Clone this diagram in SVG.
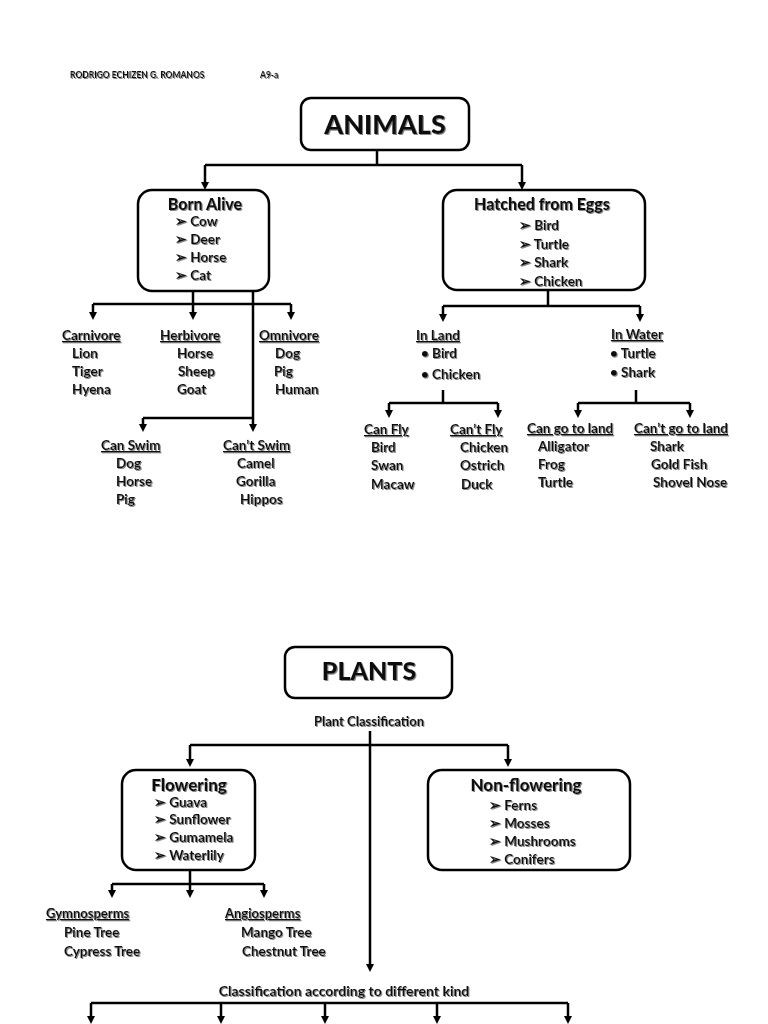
<svg xmlns="http://www.w3.org/2000/svg" width="768" height="1024" viewBox="0 0 768 1024">
<style>
text{font-family:Lato,"Liberation Sans",sans-serif;font-weight:bold;fill:#111;filter:url(#sh)}
.box{fill:#fff;stroke:#000;stroke-width:2.5}
.ln{fill:none;stroke:#000;stroke-width:2.5}
.t{font-size:16px;font-weight:900}
.i{font-size:13.5px}
.u{font-size:13.5px;text-decoration:underline}
.m{text-anchor:middle}
.h{font-weight:900}
</style>
<defs>
<filter id="sh" x="-10%" y="-20%" width="130%" height="150%"><feDropShadow dx="1" dy="1" stdDeviation="0.6" flood-color="#888"/></filter>
</defs>
<text x="70" y="78" style="font-size:8.5px">RODRIGO ECHIZEN G. ROMANOS</text>
<text x="260" y="78" style="font-size:8.5px">A9-a</text>

<g id="connectors">
<path class="ln" d="M377,150V165M205,165H522M205,165V184M522,165V184"/>
<path d="M201,182h8l-4,8z M518,182h8l-4,8z"/>
<path class="ln" d="M193,291V304M93,304H291M93,304V314M193,304V314M291,304V314"/>
<path d="M89,312h8l-4,8z M189,312h8l-4,8z M287,312h8l-4,8z"/>
<path class="ln" d="M253,291V426M143,418H253M143,418V426"/>
<path d="M139,424h8l-4,8z M249,424h8l-4,8z"/>
<path class="ln" d="M548,290V306M443,306H640M443,306V316M640,306V316"/>
<path d="M439,314h8l-4,8z M636,314h8l-4,8z"/>
<path class="ln" d="M443,390V403M389,403H498M389,403V412M498,403V412"/>
<path d="M385,410h8l-4,8z M494,410h8l-4,8z"/>
<path class="ln" d="M636,390V403M578,403H690M578,403V412M690,403V412"/>
<path d="M574,410h8l-4,8z M686,410h8l-4,8z"/>
<path class="ln" d="M370,731V966M190,745H508M190,745V761M508,745V761"/>
<path d="M366,964h8l-4,8z M186,759h8l-4,8z M504,759h8l-4,8z"/>
<path class="ln" d="M190,870V884M112,884H264M112,884V892M190,884V892M264,884V892"/>
<path d="M108,890h8l-4,8z M186,890h8l-4,8z M260,890h8l-4,8z"/>
<path class="ln" d="M91,1003H568M91,1003V1018M221,1003V1018M325,1003V1018M437,1003V1018M568,1003V1018"/>
<path d="M87,1016h8l-4,8z M217,1016h8l-4,8z M321,1016h8l-4,8z M433,1016h8l-4,8z M564,1016h8l-4,8z"/>
</g>

<g id="animals"><rect class="box" x="301" y="98" width="168" height="52" rx="10"/><text class="m h" x="385" y="134" style="font-size:27px">ANIMALS</text></g>
<g id="born-alive"><rect class="box" x="138" y="190" width="131" height="101" rx="14"/>
<text class="t m" x="205" y="210">Born Alive</text>
<text class="i" x="175" y="226">➢ Cow</text><text class="i" x="175" y="244">➢ Deer</text><text class="i" x="175" y="262">➢ Horse</text><text class="i" x="175" y="280">➢ Cat</text></g>
<g id="hatched"><rect class="box" x="443" y="190" width="202" height="100" rx="14"/>
<text class="t m" x="542" y="210">Hatched from Eggs</text>
<text class="i" x="519" y="230">➢ Bird</text><text class="i" x="519" y="249">➢ Turtle</text><text class="i" x="519" y="267">➢ Shark</text><text class="i" x="519" y="286">➢ Chicken</text></g>

<g id="carnivore"><text class="u" x="62" y="340">Carnivore</text><text class="i" x="72" y="358">Lion</text><text class="i" x="72" y="376">Tiger</text><text class="i" x="72" y="394">Hyena</text></g>
<g id="herbivore"><text class="u" x="160" y="340">Herbivore</text><text class="i" x="177" y="358">Horse</text><text class="i" x="178" y="376">Sheep</text><text class="i" x="177" y="394">Goat</text></g>
<g id="omnivore"><text class="u" x="259" y="340">Omnivore</text><text class="i" x="275" y="358">Dog</text><text class="i" x="274" y="376">Pig</text><text class="i" x="275" y="394">Human</text></g>
<g id="can-swim"><text class="u" x="101" y="450">Can Swim</text><text class="i" x="116" y="468">Dog</text><text class="i" x="116" y="486">Horse</text><text class="i" x="116" y="504">Pig</text></g>
<g id="cant-swim"><text class="u" x="223" y="450">Can’t Swim</text><text class="i" x="237" y="468">Camel</text><text class="i" x="236" y="486">Gorilla</text><text class="i" x="240" y="504">Hippos</text></g>
<g id="in-land"><text class="u" x="416" y="340">In Land</text><text class="i" x="421" y="358">•  Bird</text><text class="i" x="421" y="379">•  Chicken</text></g>
<g id="in-water"><text class="u" x="611" y="339">In Water</text><text class="i" x="610" y="358">•  Turtle</text><text class="i" x="610" y="377">•  Shark</text></g>
<g id="can-fly"><text class="u" x="364" y="434">Can Fly</text><text class="i" x="371" y="452">Bird</text><text class="i" x="371" y="470">Swan</text><text class="i" x="371" y="489">Macaw</text></g>
<g id="cant-fly"><text class="u" x="450" y="434">Can’t Fly</text><text class="i" x="460" y="452">Chicken</text><text class="i" x="460" y="470">Ostrich</text><text class="i" x="461" y="489">Duck</text></g>
<g id="can-go"><text class="u" x="527" y="433">Can go to land</text><text class="i" x="538" y="451">Alligator</text><text class="i" x="538" y="469">Frog</text><text class="i" x="538" y="487">Turtle</text></g>
<g id="cant-go"><text class="u" x="634" y="433">Can’t go to land</text><text class="i" x="650" y="451">Shark</text><text class="i" x="651" y="469">Gold Fish</text><text class="i" x="653" y="487">Shovel Nose</text></g>

<g id="plants"><rect class="box" x="285" y="647" width="167" height="51" rx="10"/><text class="m h" x="369" y="680" style="font-size:25px">PLANTS</text></g>
<g id="plant-classification"><text class="m" x="369" y="726" style="font-size:13px">Plant Classification</text></g>
<g id="flowering"><rect class="box" x="122" y="770" width="133" height="100" rx="14"/>
<text class="m h" x="189" y="791" style="font-size:17px">Flowering</text>
<text class="i" x="154" y="807">➢ Guava</text><text class="i" x="154" y="824">➢ Sunflower</text><text class="i" x="154" y="842">➢ Gumamela</text><text class="i" x="154" y="860">➢ Waterlily</text></g>
<g id="non-flowering"><rect class="box" x="428" y="770" width="202" height="100" rx="14"/>
<text class="m h" x="526" y="791" style="font-size:17px">Non-flowering</text>
<text class="i" x="489" y="810">➢ Ferns</text><text class="i" x="489" y="828">➢ Mosses</text><text class="i" x="489" y="846">➢ Mushrooms</text><text class="i" x="489" y="864">➢ Conifers</text></g>
<g id="gymnosperms"><text class="u" x="46" y="918" style="font-size:13px">Gymnosperms</text><text class="i" x="64" y="937">Pine Tree</text><text class="i" x="64" y="956">Cypress Tree</text></g>
<g id="angiosperms"><text class="u" x="225" y="918" style="font-size:13px">Angiosperms</text><text class="i" x="241" y="937">Mango Tree</text><text class="i" x="242" y="956">Chestnut Tree</text></g>
<g id="kind"><text class="m" x="344" y="996" style="font-size:14px">Classification according to different kind</text></g>
</svg>
